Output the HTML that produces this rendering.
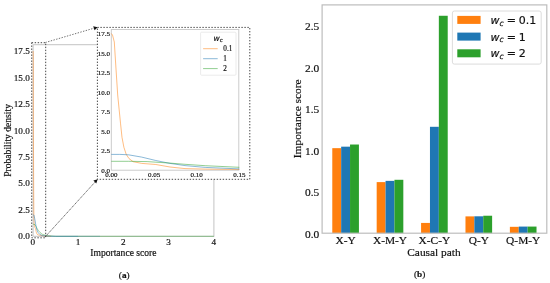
<!DOCTYPE html>
<html lang="en">
<head>
<meta charset="utf-8">
<title>Importance score figure</title>
<style>
html,body{margin:0;padding:0;background:#fff;}
body{width:550px;height:283px;overflow:hidden;}
svg{display:block;position:absolute;left:0;top:0;}
</style>
</head>
<body>
<svg width="550" height="283" viewBox="0 0 550 283">
<rect x="0" y="0" width="550" height="283" fill="#ffffff"/>
<g fill="none" stroke="#c4c4c4" stroke-width="1">
<rect x="33.1" y="44.7" width="180.8" height="191.6"/>
</g>
<g fill="none" stroke-width="0.9" stroke-linejoin="round">
<path d="M33.1,51.0 L33.2,53.0 L33.3,62.5 L33.3,99.0 L33.4,134.3 L33.5,153.4 L33.6,172.6 L33.7,191.8 L33.8,205.3 L33.9,214.8 L34.0,220.6 L34.3,224.8 L34.7,227.1 L35.5,228.6 L36.2,232.0 L37.0,234.2 L38.1,234.8 L39.9,235.3 L44.4,236.0 L51.2,236.3" stroke="#ff7f0e" stroke-opacity="0.52"/>
<path d="M33.1,224.3 L34.0,224.3 L35.0,224.7 L36.2,226.7 L37.0,228.3 L38.1,230.2 L39.9,232.4 L42.1,234.2 L46.7,235.7 L55.7,236.3 L213.9,236.3" stroke="#2ca02c" stroke-opacity="0.5"/>
<path d="M33.1,214.9 L33.6,214.9 L34.0,215.4 L34.7,218.6 L35.5,223.2 L36.2,227.1 L37.0,230.1 L38.1,232.5 L39.9,234.5 L42.1,235.5 L46.7,236.1 L55.7,236.3 L78,236.3" stroke="#1f77b4" stroke-opacity="0.6"/>
<path d="M78,236.3 L100,236.3" stroke="#1f77b4" stroke-opacity="0.3"/>
</g>
<g font-family="'Liberation Serif', serif" font-size="9.2px" fill="#111" stroke="#111" stroke-width="0.18">
<text x="29.8" y="239.2" text-anchor="end">0.0</text>
<text x="29.8" y="212.8" text-anchor="end">2.5</text>
<text x="29.8" y="186.4" text-anchor="end">5.0</text>
<text x="29.8" y="160.0" text-anchor="end">7.5</text>
<text x="29.8" y="133.6" text-anchor="end">10.0</text>
<text x="29.8" y="107.2" text-anchor="end">12.5</text>
<text x="29.8" y="80.8" text-anchor="end">15.0</text>
<text x="29.8" y="54.4" text-anchor="end">17.5</text>
<text x="32.9" y="245.2" text-anchor="middle">0</text>
<text x="78.1" y="245.2" text-anchor="middle">1</text>
<text x="123.3" y="245.2" text-anchor="middle">2</text>
<text x="168.5" y="245.2" text-anchor="middle">3</text>
<text x="213.7" y="245.2" text-anchor="middle">4</text>
</g>
<g font-family="'Liberation Serif', serif" font-size="9.6px" fill="#111" stroke="#111" stroke-width="0.18">
<text x="123.4" y="256" text-anchor="middle">Importance score</text>
<text transform="translate(10.6,140.4) rotate(-90)" text-anchor="middle">Probability density</text>
</g>
<rect x="31.7" y="42.7" width="14.0" height="195.1" stroke="#333" stroke-width="0.9" stroke-dasharray="1.4 1.6" fill="none"/>
<line x1="45.4" y1="42.5" x2="96" y2="27.6" stroke="#333" stroke-width="0.7" stroke-dasharray="1.4 1.4"/>
<line x1="45.4" y1="236.6" x2="96" y2="181" stroke="#333" stroke-width="0.75" stroke-dasharray="1.3 0.7"/>
<rect x="97.4" y="27.4" width="152.4" height="151.9" stroke="#333" stroke-width="0.9" stroke-dasharray="1.4 1.6" fill="#fff"/>
<polygon points="97.6,27.2 93.2,26.2 94.6,30.2" fill="#111"/>
<polygon points="97.7,179.2 93.4,180.6 96.2,183.4" fill="#111"/>
<rect x="111.3" y="29.5" width="127.5" height="140.7" fill="#fff" stroke="#c6c6c6" stroke-width="0.9"/>
<g fill="none" stroke-width="0.8" stroke-linejoin="round">
<path d="M111.3,33.5 L112.5,35.0 L114.3,42.0 L116.0,69.0 L117.7,95.0 L119.1,109.1 L120.5,123.2 L122.0,137.4 L123.9,147.3 L126.2,154.3 L129.0,158.6 L133.2,161.7 L141.7,163.4 L155.8,164.5 L170.0,167.0 L185.0,168.6 L205.2,169.1 L239.3,169.5" stroke="#ff7f0e" stroke-opacity="0.65"/>
<path d="M111.3,154.4 L119.8,154.4 L128.4,154.8 L141.7,157.1 L155.8,160.5 L170.0,163.4 L185.0,165.6 L205.2,167.4 L239.3,168.9" stroke="#1f77b4" stroke-opacity="0.65"/>
<path d="M111.3,161.3 L128.4,161.3 L147.1,161.6 L170.0,163.1 L185.0,164.3 L205.2,165.7 L239.3,167.3" stroke="#2ca02c" stroke-opacity="0.65"/>
</g>
<g font-family="'Liberation Serif', serif" font-size="7px" fill="#111" stroke="#111" stroke-width="0.18">
<text x="110" y="172.7" text-anchor="end">0.0</text>
<text x="110" y="153.2" text-anchor="end">2.5</text>
<text x="110" y="133.8" text-anchor="end">5.0</text>
<text x="110" y="114.3" text-anchor="end">7.5</text>
<text x="110" y="94.8" text-anchor="end">10.0</text>
<text x="110" y="75.4" text-anchor="end">12.5</text>
<text x="110" y="55.9" text-anchor="end">15.0</text>
<text x="110" y="36.4" text-anchor="end">17.5</text>
<text x="111.3" y="177.3" text-anchor="middle">0.00</text>
<text x="154.0" y="177.3" text-anchor="middle">0.05</text>
<text x="196.7" y="177.3" text-anchor="middle">0.10</text>
<text x="239.4" y="177.3" text-anchor="middle">0.15</text>
</g>
<rect x="200.6" y="32.2" width="35.4" height="43" rx="1" fill="#fff" stroke="#e2e2e2" stroke-width="0.7"/>
<text x="213.6" y="41" font-family="'DejaVu Sans', 'Liberation Sans', sans-serif" font-style="italic" font-size="7.6px" fill="#111" stroke="#111" stroke-width="0.18">w<tspan font-size="5.5px" dy="1.3">c</tspan></text>
<line x1="203.1" y1="48.7" x2="217.7" y2="48.7" stroke="#ff7f0e" stroke-width="0.8" stroke-opacity="0.65"/>
<text x="223.3" y="51.1" font-family="'Liberation Serif', serif" font-size="7.2px" fill="#111" stroke="#111" stroke-width="0.18">0.1</text>
<line x1="203.1" y1="58.7" x2="217.7" y2="58.7" stroke="#1f77b4" stroke-width="0.8" stroke-opacity="0.65"/>
<text x="223.3" y="61.1" font-family="'Liberation Serif', serif" font-size="7.2px" fill="#111" stroke="#111" stroke-width="0.18">1</text>
<line x1="203.1" y1="68.6" x2="217.7" y2="68.6" stroke="#2ca02c" stroke-width="0.8" stroke-opacity="0.65"/>
<text x="223.3" y="71.0" font-family="'Liberation Serif', serif" font-size="7.2px" fill="#111" stroke="#111" stroke-width="0.18">2</text>
<text x="124.2" y="277.5" text-anchor="middle" font-family="'Liberation Serif', serif" font-size="9.2px" fill="#111" stroke="#111" stroke-width="0.18">(<tspan font-weight="bold">a</tspan>)</text>
<rect x="332.28" y="148.16" width="8.88" height="85.04" fill="#ff7f0e"/>
<rect x="341.16" y="146.67" width="8.88" height="86.53" fill="#1f77b4"/>
<rect x="350.04" y="144.52" width="8.88" height="88.68" fill="#2ca02c"/>
<rect x="376.68" y="182.11" width="8.88" height="51.09" fill="#ff7f0e"/>
<rect x="385.56" y="180.87" width="8.88" height="52.33" fill="#1f77b4"/>
<rect x="394.44" y="179.79" width="8.88" height="53.41" fill="#2ca02c"/>
<rect x="421.08" y="222.93" width="8.88" height="10.27" fill="#ff7f0e"/>
<rect x="429.96" y="126.80" width="8.88" height="106.40" fill="#1f77b4"/>
<rect x="438.84" y="15.77" width="8.88" height="217.43" fill="#2ca02c"/>
<rect x="465.48" y="216.39" width="8.88" height="16.81" fill="#ff7f0e"/>
<rect x="474.36" y="216.31" width="8.88" height="16.89" fill="#1f77b4"/>
<rect x="483.24" y="215.73" width="8.88" height="17.47" fill="#2ca02c"/>
<rect x="509.88" y="226.82" width="8.88" height="6.38" fill="#ff7f0e"/>
<rect x="518.76" y="226.58" width="8.88" height="6.62" fill="#1f77b4"/>
<rect x="527.64" y="226.58" width="8.88" height="6.62" fill="#2ca02c"/>
<rect x="322.1" y="4.9" width="224.7" height="228.3" fill="none" stroke="#bdbdbd" stroke-width="1.2"/>
<g font-family="'Liberation Serif', serif" font-size="11.4px" fill="#111" stroke="#111" stroke-width="0.18">
<text x="319.2" y="237.8" text-anchor="end">0.0</text>
<text x="319.2" y="196.3" text-anchor="end">0.5</text>
<text x="319.2" y="154.8" text-anchor="end">1.0</text>
<text x="319.2" y="113.3" text-anchor="end">1.5</text>
<text x="319.2" y="71.8" text-anchor="end">2.0</text>
<text x="319.2" y="30.3" text-anchor="end">2.5</text>
<text x="345.6" y="244.4" text-anchor="middle">X-Y</text>
<text x="390.0" y="244.4" text-anchor="middle">X-M-Y</text>
<text x="434.4" y="244.4" text-anchor="middle">X-C-Y</text>
<text x="478.8" y="244.4" text-anchor="middle">Q-Y</text>
<text x="523.2" y="244.4" text-anchor="middle">Q-M-Y</text>
<text x="434" y="256" text-anchor="middle">Causal path</text>
<text transform="translate(300.9,118.8) rotate(-90)" text-anchor="middle">Importance score</text>
</g>
<rect x="452.4" y="11" width="88.8" height="53.1" rx="2" fill="#fff" fill-opacity="0.8" stroke="#d8d8d8" stroke-width="0.9"/>
<rect x="457.3" y="15.9" width="23.3" height="8" fill="#ff7f0e"/>
<text x="490.6" y="23.8" font-family="'DejaVu Sans', 'Liberation Sans', sans-serif" font-size="11px" word-spacing="-0.6px" fill="#111" stroke="#111" stroke-width="0.18"><tspan font-style="italic">w</tspan><tspan font-style="italic" font-size="7.7px" dy="1.8">c</tspan><tspan dy="-1.8"> = 0.1</tspan></text>
<rect x="457.3" y="32.6" width="23.3" height="8" fill="#1f77b4"/>
<text x="490.6" y="40.5" font-family="'DejaVu Sans', 'Liberation Sans', sans-serif" font-size="11px" word-spacing="-0.6px" fill="#111" stroke="#111" stroke-width="0.18"><tspan font-style="italic">w</tspan><tspan font-style="italic" font-size="7.7px" dy="1.8">c</tspan><tspan dy="-1.8"> = 1</tspan></text>
<rect x="457.3" y="49.3" width="23.3" height="8" fill="#2ca02c"/>
<text x="490.6" y="57.2" font-family="'DejaVu Sans', 'Liberation Sans', sans-serif" font-size="11px" word-spacing="-0.6px" fill="#111" stroke="#111" stroke-width="0.18"><tspan font-style="italic">w</tspan><tspan font-style="italic" font-size="7.7px" dy="1.8">c</tspan><tspan dy="-1.8"> = 2</tspan></text>
<text x="419.6" y="277" text-anchor="middle" font-family="'Liberation Serif', serif" font-size="9.2px" fill="#111" stroke="#111" stroke-width="0.18">(<tspan font-weight="bold">b</tspan>)</text>
</svg>
</body>
</html>
